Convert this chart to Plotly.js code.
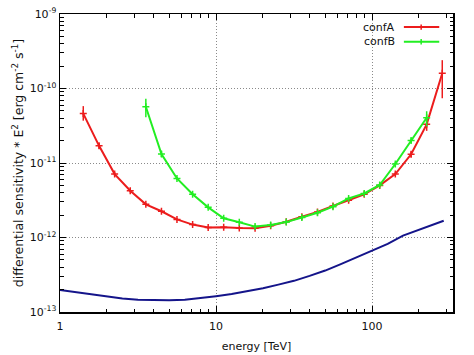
<!DOCTYPE html>
<html>
<head>
<meta charset="utf-8">
<script src="https://cdn.plot.ly/plotly-3.0.1.min.js"></script>
<style>html,body{margin:0;padding:0;background:#fff;}#chart{width:474px;height:355px;}</style>
</head>
<body>
<div id="chart"></div>
<script>
// confA (red)
const energyA = [1.41,1.78,2.24,2.82,3.55,4.47,5.62,7.08,8.91,11.2,14.1,17.8,22.4,28.2,35.5,44.7,56.2,70.8,89.1,112,141,178,224,282];
const sensA   = [4.6e-11,1.7e-11,7.1e-12,4.25e-12,2.79e-12,2.25e-12,1.75e-12,1.49e-12,1.36e-12,1.37e-12,1.34e-12,1.33e-12,1.44e-12,1.63e-12,1.9e-12,2.2e-12,2.65e-12,3.16e-12,3.8e-12,5.0e-12,7.1e-12,1.31e-11,3.3e-11,1.6e-10];
const errUpA  = [1.2e-11,1.5e-12,4e-13,2e-13,1e-13,8e-14,6e-14,5e-14,5e-14,5e-14,5e-14,5e-14,5e-14,6e-14,7e-14,8e-14,1e-13,1.2e-13,1.5e-13,2e-13,4e-13,1.2e-12,6e-12,8e-11];
const errDnA  = [9e-12,1.5e-12,4e-13,2e-13,1e-13,8e-14,6e-14,5e-14,5e-14,5e-14,5e-14,5e-14,5e-14,6e-14,7e-14,8e-14,1e-13,1.2e-13,1.5e-13,2e-13,4e-13,1.2e-12,6e-12,8.6e-11];
// confB (green)
const energyB = [3.55,4.47,5.62,7.08,8.91,11.2,14.1,17.8,22.4,28.2,35.5,44.7,56.2,70.8,89.1,112,141,178,224];
const sensB   = [5.7e-11,1.32e-11,6.2e-12,3.8e-12,2.54e-12,1.81e-12,1.6e-12,1.4e-12,1.47e-12,1.61e-12,1.86e-12,2.15e-12,2.59e-12,3.35e-12,3.9e-12,5.07e-12,9.7e-12,2.0e-11,4.05e-11];
const errUpB  = [1.6e-11,1.2e-12,3e-13,1.5e-13,1e-13,7e-14,6e-14,5e-14,5e-14,6e-14,7e-14,8e-14,1e-13,1.3e-13,1.5e-13,2e-13,6e-13,1.5e-12,9e-12];
const errDnB  = [1.6e-11,1.2e-12,3e-13,1.5e-13,1e-13,7e-14,6e-14,5e-14,5e-14,6e-14,7e-14,8e-14,1e-13,1.3e-13,1.5e-13,2e-13,6e-13,1.5e-12,9.5e-12];
// reference curve (navy)
const energyC = [1,1.26,1.58,2.0,2.51,3.16,3.98,5.01,6.31,7.94,10,12.6,15.8,20.0,25.1,31.6,39.8,50.1,63.1,79.4,100,126,158,200,251,288];
const sensC   = [1.97e-13,1.85e-13,1.72e-13,1.6e-13,1.52e-13,1.46e-13,1.44e-13,1.44e-13,1.46e-13,1.53e-13,1.63e-13,1.74e-13,1.88e-13,2.08e-13,2.33e-13,2.62e-13,3.05e-13,3.6e-13,4.4e-13,5.4e-13,6.6e-13,8.2e-13,1.06e-12,1.28e-12,1.5e-12,1.68e-12];

const xTickVals = [1,10,100];
const xTickText = ['1','10','100'];
const yTickVals = [1e-13,1e-12,1e-11,1e-10,1e-9];
const yTickText = ['10<sup>-13</sup>','10<sup>-12</sup>','10<sup>-11</sup>','10<sup>-10</sup>','10<sup>-9</sup>'];

const red = '#ec1c1c', green = '#22ee22', navy = '#14148a';

function minorVals(lo, hi){
  const v=[];
  for(let d=lo; d<hi; d++){ for(let k=2;k<=9;k++) v.push(k*Math.pow(10,d)); }
  return v;
}

const traces = [
  {x: energyC, y: sensC, type:'scatter', mode:'lines', line:{color:navy, width:2}, showlegend:false},
  {x: energyA, y: sensA, type:'scatter', mode:'lines+markers', name:'confA',
   line:{color:red, width:2}, marker:{symbol:'cross-thin', size:5, line:{color:red, width:1.5}, color:red},
   error_y:{type:'data', symmetric:false, array:errUpA, arrayminus:errDnA, width:0, thickness:1.5, color:red}, showlegend:false},
  {x: energyB, y: sensB, type:'scatter', mode:'lines+markers', name:'confB',
   line:{color:green, width:2}, marker:{symbol:'cross-thin', size:5, line:{color:green, width:1.5}, color:green},
   error_y:{type:'data', symmetric:false, array:errUpB, arrayminus:errDnB, width:0, thickness:1.5, color:green}, showlegend:false}
];

const font = {family:'DejaVu Sans, Verdana, sans-serif', size:11, color:'#111'};

const axisCommon = {
  type:'log', showline:true, linecolor:'#000', linewidth:1.5, mirror:'ticks',
  ticks:'inside', ticklen:6, tickwidth:1, tickcolor:'#000',
  showgrid:true, gridcolor:'#8a8a8a', griddash:'1px,2px', gridwidth:1, zeroline:false,
  tickmode:'array', tickfont:{family:font.family, size:11, color:'#111'}
};

const layout = {
  width:474, height:355,
  margin:{l:60, r:21, t:14, b:43},
  paper_bgcolor:'#fff', plot_bgcolor:'#fff',
  font: font,
  xaxis: Object.assign({}, axisCommon, {
    range:[0, 2.519], tickvals:xTickVals, ticktext:xTickText, ticklabelstandoff:3,
    minor:{tickmode:'array', tickvals:minorVals(0,3), ticks:'inside', ticklen:3.5, tickwidth:1, tickcolor:'#000', showgrid:false},
    title:{text:'energy [TeV]', font:font, standoff:10}
  }),
  yaxis: Object.assign({}, axisCommon, {
    range:[-13, -9], tickvals:yTickVals, ticktext:yTickText,
    minor:{tickmode:'array', tickvals:minorVals(-13,-9), ticks:'inside', ticklen:3.5, tickwidth:1, tickcolor:'#000', showgrid:false},
    title:{text:'differential sensitivity * E<sup>2</sup> [erg cm<sup>-2</sup> s<sup>-1</sup>]', font:{family:font.family, size:12.5, color:'#111'}, standoff:3}
  }),
  showlegend:false,
  annotations:[
    {xref:'paper', yref:'paper', x:0.857, y:0.956, xanchor:'right', yanchor:'middle', text:'confA', showarrow:false, font:{family:font.family, size:11, color:'#111'}},
    {xref:'paper', yref:'paper', x:0.857, y:0.907, xanchor:'right', yanchor:'middle', text:'confB', showarrow:false, font:{family:font.family, size:11, color:'#111'}}
  ],
  shapes:[
    {type:'line', xref:'paper', yref:'paper', x0:0.875, x1:0.965, y0:0.956, y1:0.956, line:{color:red, width:2}},
    {type:'line', xref:'paper', yref:'paper', x0:0.919, x1:0.919, y0:0.947, y1:0.965, line:{color:red, width:1.5}},
    {type:'line', xref:'paper', yref:'paper', x0:0.875, x1:0.965, y0:0.907, y1:0.907, line:{color:green, width:2}},
    {type:'line', xref:'paper', yref:'paper', x0:0.919, x1:0.919, y0:0.898, y1:0.916, line:{color:green, width:1.5}}
  ]
};

Plotly.newPlot('chart', traces, layout, {displayModeBar:false, staticPlot:true});
</script>
</body>
</html>
